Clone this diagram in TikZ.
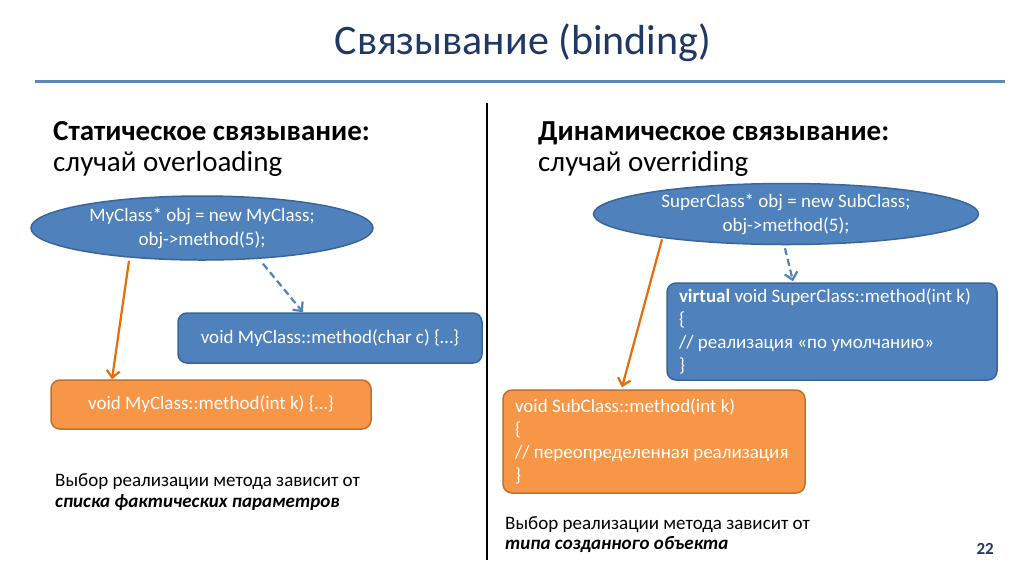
\documentclass[tikz,border=0pt]{standalone}
\usepackage{fontspec}
\setmainfont{Carlito}
\usetikzlibrary{shapes.geometric,arrows.meta,calc}
\definecolor{slideblue}{HTML}{4F81BD}
\definecolor{blueedge}{HTML}{3A659A}
\definecolor{slideorange}{HTML}{F79646}
\definecolor{orangeedge}{HTML}{C0702E}
\definecolor{arroworange}{HTML}{E46C0A}
\definecolor{titlenavy}{HTML}{1F3864}
\definecolor{rulebl}{HTML}{5B87BA}
\begin{document}
\begin{tikzpicture}[x=1pt,y=-1pt,
  callnode/.style={ellipse,draw=blueedge,line width=1.5pt,fill=slideblue,text=white,
    align=center,inner sep=0pt,font=\fontsize{19}{24}\selectfont},
  bluebox/.style={rectangle,rounded corners=9pt,draw=blueedge,line width=1.5pt,
    fill=slideblue,text=white,inner sep=0pt,font=\fontsize{19}{23}\selectfont},
  orangebox/.style={bluebox,draw=orangeedge,fill=slideorange},
  callarrow/.style={arroworange,line width=2.2pt,-{Straight Barb[length=7pt,width=13pt]}},
  lookarrow/.style={slideblue,line width=2.2pt,dash pattern=on 7pt off 4pt,
    -{Straight Barb[length=7pt,width=13pt]}},
  headtext/.style={anchor=base west,inner sep=0pt,font=\fontsize{29}{32}\selectfont},
  notetext/.style={anchor=base west,inner sep=0pt,font=\fontsize{19}{22}\selectfont}]
  \useasboundingbox[fill=white] (0,0) rectangle (1024,574);
  % title and frame lines
  \node[anchor=base,inner sep=0pt,text=titlenavy,font=\fontsize{42}{46}\selectfont] (title) at (523,54) {Связывание (binding)};
  \draw[rulebl,line width=3pt] (35,81) -- (1005,81);
  \draw[line width=2pt] (487,103) -- (487,560);
  % static binding
  \node[headtext] (statHead) at (53,140) {\bfseries Статическое связывание:};
  \node[headtext] (statCase) at (53,171) {случай overloading};
  \node[callnode,minimum width=342,minimum height=64] (callL) at (202,228) {MyClass* obj = new MyClass;\\obj->method(5);};
  \node[bluebox,minimum width=304,minimum height=50] (charL) at (330,338) {void MyClass::method(char c) \{…\}};
  \node[orangebox,minimum width=320,minimum height=49] (intL) at (211,404.5) {void MyClass::method(int k) \{…\}};
  \draw[callarrow] ($(callL.south)+(-73,0)$) -- ($(intL.north)+(-99,0)$);
  \draw[lookarrow] ($(callL.south)+(61,3)$) -- ($(charL.north)+(-27,0)$);
  \node[notetext] (statNote) at (55,486) {Выбор реализации метода зависит от};
  \node[notetext] (statWhy) at (55,507) {\bfseries\itshape списка фактических параметров};
  % dynamic binding
  \node[headtext] (dynHead) at (538,140) {\bfseries Динамическое связывание:};
  \node[headtext] (dynCase) at (538,171) {случай overriding};
  \node[callnode,minimum width=385,minimum height=61] (callR) at (786,214) {SuperClass* obj = new SubClass;\\obj->method(5);};
  \node[bluebox,minimum width=330,minimum height=97,text width=306,align=flush left] (virtR) at (832,331.5)
    {\textbf{virtual} void SuperClass::method(int k)\\\{\\// реализация «по умолчанию»\\\}};
  \node[orangebox,minimum width=302,minimum height=103,text width=278,align=flush left] (subR) at (654,441.5)
    {void SubClass::method(int k)\\\{\\// переопределенная реализация\\\}};
  \draw[callarrow] ($(callR.south)+(-124,-6)$) -- ($(subR.north)+(-32,-2)$);
  \draw[lookarrow] ($(callR.south)+(-1,3)$) -- ($(virtR.north)+(-39,-1)$);
  \node[notetext] (dynNote) at (505,529) {Выбор реализации метода зависит от};
  \node[notetext] (dynWhy) at (505,549) {\bfseries\itshape типа созданного объекта};
  \node[anchor=base east,inner sep=0pt,text=titlenavy,font=\fontsize{17}{20}\selectfont\bfseries] (pageNo) at (994,554) {22};
\end{tikzpicture}
\end{document}
